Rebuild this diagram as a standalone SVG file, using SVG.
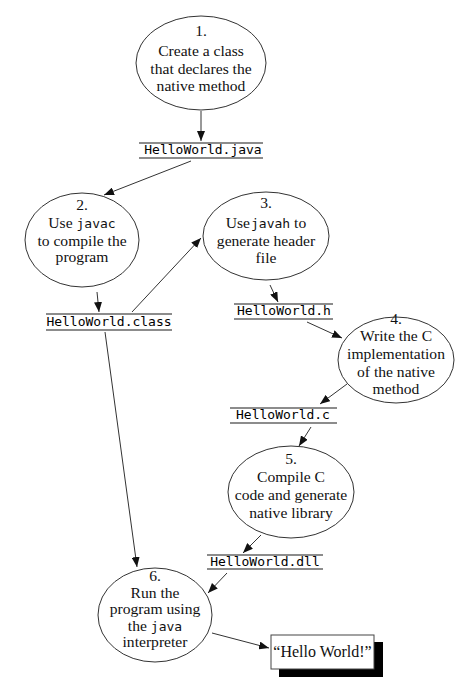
<svg xmlns="http://www.w3.org/2000/svg" width="474" height="684" viewBox="0 0 474 684">
<style>
.bg{fill:#fff}
.step ellipse{fill:#fff;stroke:#333;stroke-width:1}
.step text{font-family:"Liberation Serif","Times New Roman",serif;font-size:15.6px;fill:#111;text-anchor:middle}
.mono{font-family:"DejaVu Sans Mono","Liberation Mono",monospace;font-size:13px}
.file line{stroke:#666;stroke-width:1.5}
.file text{font-family:"DejaVu Sans Mono","Liberation Mono",monospace;font-size:13px;fill:#000;text-anchor:middle}
.conn line{stroke:#333;stroke-width:1;marker-end:url(#arr)}
</style>
<defs>
<marker id="arr" markerUnits="userSpaceOnUse" markerWidth="10" markerHeight="8" refX="10" refY="4" orient="auto">
<path d="M0,0 L10,4 L0,8 z" fill="#111"/>
</marker>
</defs>
<rect class="bg" x="0" y="0" width="474" height="684"/>

<g id="step1" class="step">
<ellipse cx="201" cy="63" rx="65" ry="47"/>
<text x="201" y="36">1.</text>
<text x="201" y="56">Create a class</text>
<text x="201" y="74">that declares the</text>
<text x="201" y="91">native method</text>
</g>

<g id="file-java" class="file">
<line x1="139" y1="143" x2="263" y2="143"/>
<line x1="139" y1="158" x2="263" y2="158"/>
<text x="203" y="154">HelloWorld.java</text>
</g>

<g id="step2" class="step">
<ellipse cx="82" cy="240" rx="57" ry="47"/>
<text x="82" y="210">2.</text>
<text x="82" y="228">Use <tspan class="mono">javac</tspan></text>
<text x="82" y="246">to compile the</text>
<text x="82" y="262">program</text>
</g>

<g id="file-class" class="file">
<line x1="46" y1="314" x2="172" y2="314"/>
<line x1="46" y1="330" x2="172" y2="330"/>
<text x="109" y="326">HelloWorld.class</text>
</g>

<g id="step3" class="step">
<ellipse cx="266" cy="236" rx="63" ry="44"/>
<text x="266" y="208">3.</text>
<text x="266" y="228">Use<tspan class="mono" dx="1">javah</tspan> to</text>
<text x="266" y="246">generate header</text>
<text x="266" y="263">file</text>
</g>

<g id="file-h" class="file">
<line x1="234" y1="304" x2="333" y2="304"/>
<line x1="234" y1="319" x2="333" y2="319"/>
<text x="284" y="315">HelloWorld.h</text>
</g>

<g id="step4" class="step">
<ellipse cx="396" cy="360" rx="58" ry="43"/>
<text x="396" y="324">4.</text>
<text x="396" y="341">Write the C</text>
<text x="396" y="359">implementation</text>
<text x="396" y="377">of the native</text>
<text x="396" y="394">method</text>
</g>

<g id="file-c" class="file">
<line x1="230" y1="408" x2="337" y2="408"/>
<line x1="230" y1="423" x2="337" y2="423"/>
<text x="283" y="419">HelloWorld.c</text>
</g>

<g id="step5" class="step">
<ellipse cx="291" cy="492" rx="63" ry="46"/>
<text x="291" y="464">5.</text>
<text x="291" y="482">Compile C</text>
<text x="291" y="500">code and generate</text>
<text x="291" y="518">native library</text>
</g>

<g id="file-dll" class="file">
<line x1="207" y1="555" x2="323" y2="555"/>
<line x1="207" y1="569" x2="323" y2="569"/>
<text x="265" y="566">HelloWorld.dll</text>
</g>

<g id="step6" class="step">
<ellipse cx="155" cy="615" rx="57" ry="47"/>
<text x="155" y="581">6.</text>
<text x="155" y="598">Run the</text>
<text x="155" y="614">program using</text>
<text x="155" y="631">the <tspan class="mono">java</tspan></text>
<text x="155" y="647">interpreter</text>
</g>

<g id="output">
<rect x="279" y="642" width="104" height="35" fill="#000"/>
<rect x="271" y="635" width="103" height="34" fill="#fff" stroke="#444" stroke-width="1"/>
<text x="322.5" y="657" font-family="'Liberation Serif','Times New Roman',serif" font-size="16" fill="#111" text-anchor="middle">“Hello World!”</text>
</g>

<g id="connectors" class="conn">
<line x1="201" y1="111" x2="201" y2="141"/>
<line x1="191" y1="161" x2="104" y2="195"/>
<line x1="97" y1="292" x2="99" y2="312"/>
<line x1="132" y1="312" x2="201" y2="238"/>
<line x1="105" y1="332" x2="137" y2="567"/>
<line x1="270" y1="285" x2="278" y2="302"/>
<line x1="307" y1="322" x2="342" y2="338"/>
<line x1="347" y1="384" x2="320" y2="404"/>
<line x1="311" y1="427" x2="299" y2="446"/>
<line x1="261" y1="535" x2="243" y2="553"/>
<line x1="227" y1="573" x2="208" y2="593"/>
<line x1="212" y1="633" x2="269" y2="648"/>
</g>
</svg>
